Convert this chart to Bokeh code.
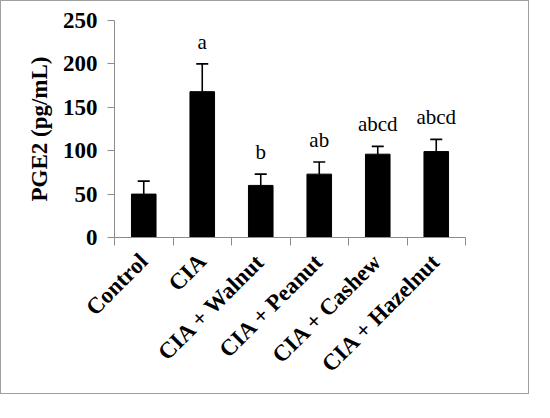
from math import pi

from bokeh.core.properties import value
from bokeh.embed import file_html
from bokeh.models import ColumnDataSource, FixedTicker, Range1d, TeeHead, Whisker
from bokeh.plotting import figure
from bokeh.resources import INLINE

# data
groups = ["Control", "CIA", "CIA + Walnut", "CIA + Peanut", "CIA + Cashew", "CIA + Hazelnut"]
pge2 = [50, 168, 60, 73, 96, 99]
sd = [15, 32, 13, 14, 9, 14]
letters = ["", "a", "b", "ab", "abcd", "abcd"]
y_ticks = [0, 50, 100, 150, 200, 250]

FONT = "Liberation Serif"

centers = [i + 0.5 for i in range(len(groups))]
bounds = list(range(len(groups) + 1))

source = ColumnDataSource(data=dict(
    x=centers,
    top=pge2,
    upper=[v + e for v, e in zip(pge2, sd)],
    letter=letters,
))

p = figure(width=529, height=394,
           x_range=Range1d(0, len(groups)), y_range=Range1d(0, 250),
           output_backend="svg", toolbar_location=None,
           min_border_left=113, min_border_right=65,
           min_border_top=19, min_border_bottom=158,
           styles={"border": "1px solid #a0a0a0"})

p.vbar(x="x", top="top", width=0.42, source=source, color="black")

err = Whisker(source=source, base="x", lower="top", upper="upper", dimension="height",
              line_color="black", line_width=1.6,
              upper_head=TeeHead(size=12, line_color="black", line_width=1.6),
              lower_head=None)
p.add_layout(err)

p.text(x="x", y="upper", text="letter", source=source,
       text_font=value(FONT), text_font_size="21px", text_color="black",
       text_align="center", text_baseline="bottom", y_offset=-10)

p.xgrid.visible = False
p.ygrid.visible = False
p.outline_line_color = None

# y axis
ya = p.yaxis[0]
ya.ticker = FixedTicker(ticks=y_ticks)
ya.axis_label = "PGE2 (pg/mL)"
ya.axis_label_text_font = FONT
ya.axis_label_text_font_style = "bold"
ya.axis_label_text_font_size = "23px"
ya.axis_label_text_color = "black"
ya.axis_label_standoff = 8
ya.major_label_text_font = FONT
ya.major_label_text_font_style = "bold"
ya.major_label_text_font_size = "23px"
ya.major_label_text_color = "black"
ya.major_label_standoff = 10
ya.axis_line_color = "#8c8c8c"
ya.major_tick_line_color = "#8c8c8c"
ya.major_tick_out = 7
ya.major_tick_in = 0
ya.minor_tick_line_color = None

# x axis: labels at bar centres, tick marks at category boundaries
xa = p.xaxis[0]
xa.ticker = FixedTicker(ticks=centers, minor_ticks=bounds)
xa.major_label_overrides = {c: g for c, g in zip(centers, groups)}
xa.major_label_orientation = pi / 4
xa.major_label_text_font = FONT
xa.major_label_text_font_style = "bold"
xa.major_label_text_font_size = "23px"
xa.major_label_text_color = "black"
xa.major_label_standoff = 12
xa.axis_line_color = "#8c8c8c"
xa.major_tick_line_color = None
xa.minor_tick_line_color = "#8c8c8c"
xa.minor_tick_out = 8
xa.minor_tick_in = 0

open("out.html", "w").write(file_html(p, INLINE))
